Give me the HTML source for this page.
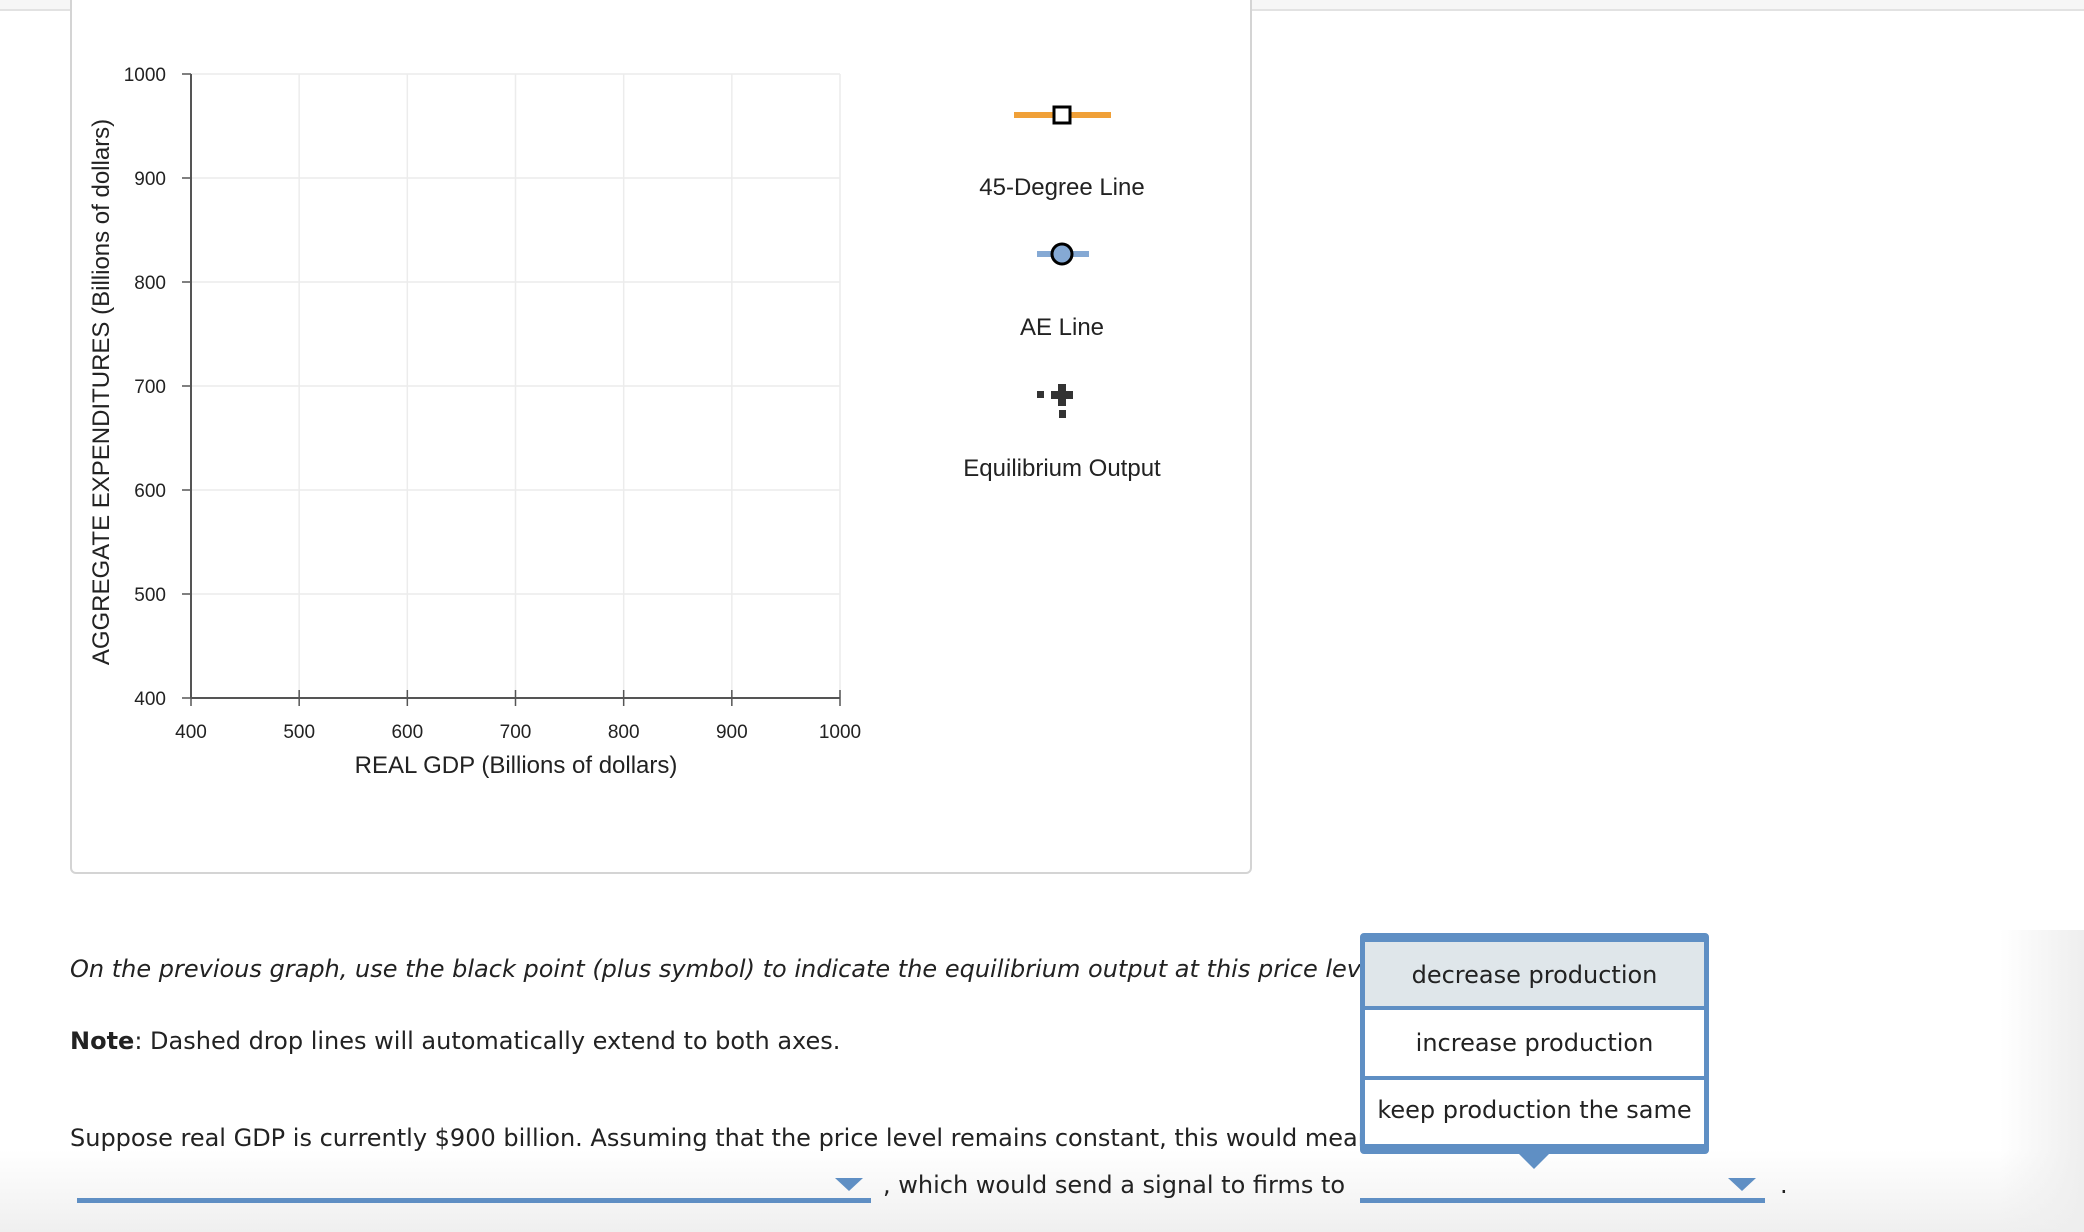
<!DOCTYPE html>
<html><head><meta charset="utf-8">
<style>
html,body{margin:0;padding:0;background:#fff;}
body{width:2084px;height:1232px;overflow:hidden;position:relative;font-family:"DejaVu Sans","Liberation Sans",sans-serif;}
.t{position:absolute;font-size:24px;color:#222;white-space:nowrap;}
</style></head>
<body>
<div style="position:absolute;left:0;top:1150px;width:2084px;height:82px;background:linear-gradient(#fff,#efefef);"></div>
<div style="position:absolute;left:2000px;top:930px;width:84px;height:302px;background:linear-gradient(90deg,rgba(255,255,255,0),#eeeeee);"></div>
<div style="position:absolute;left:0;top:0;width:2084px;height:9px;background:#f6f6f6;border-bottom:2px solid #e2e2e2;"></div>
<div style="position:absolute;left:70px;top:-10px;width:1178px;height:880px;border:2px solid #d4d4d4;border-radius:6px;background:#fff;"></div>

<svg id="chart" width="2084" height="1232" style="position:absolute;left:0;top:0;" xmlns="http://www.w3.org/2000/svg" font-family="Liberation Sans, sans-serif">
  <g id="grid"></g>
  <g id="axes"></g>
  <text x="516" y="773" font-size="24" text-anchor="middle" fill="#222">REAL GDP (Billions of dollars)</text>
  <text transform="translate(109,392) rotate(-90)" font-size="24" text-anchor="middle" fill="#222">AGGREGATE EXPENDITURES (Billions of dollars)</text>
  <g>
    <g>
      <line x1="1014" y1="115" x2="1111" y2="115" stroke="#f0a038" stroke-width="6"/>
      <rect x="1054" y="107" width="16" height="16" fill="#fff" stroke="#000" stroke-width="3"/>
      <text x="1062" y="195" font-size="24" text-anchor="middle" fill="#222">45-Degree Line</text>
    </g>
    <g>
      <line x1="1037" y1="254" x2="1089" y2="254" stroke="#85a9d4" stroke-width="6"/>
      <circle cx="1062" cy="254" r="10" fill="#85a9d4" stroke="#000" stroke-width="3"/>
      <text x="1062" y="335" font-size="24" text-anchor="middle" fill="#222">AE Line</text>
    </g>
    <g>
      <rect x="1037" y="391" width="7" height="7" fill="#333"/>
      <rect x="1058" y="384" width="8" height="22" fill="#333"/>
      <rect x="1051" y="391" width="22" height="8" fill="#333"/>
      <rect x="1059" y="410" width="7" height="8" fill="#333"/>
      <text x="1062" y="476" font-size="24" text-anchor="middle" fill="#222">Equilibrium Output</text>
    </g>
  </g>
</svg>

<div class="t" style="left:70px;top:955px;font-style:italic;width:1290px;overflow:hidden;">On the previous graph, use the black point (plus symbol) to indicate the equilibrium output at this price level.</div>
<div class="t" style="left:70px;top:1027px;"><b>Note</b>: Dashed drop lines will automatically extend to both axes.</div>
<div class="t" style="left:70px;top:1124px;width:1290px;overflow:hidden;">Suppose real GDP is currently $900 billion. Assuming that the price level remains constant, this would mean</div>

<div style="position:absolute;left:77px;top:1168px;width:794px;height:30px;border-bottom:5px solid #5f8fc4;"></div>
<div style="position:absolute;left:835px;top:1178px;width:0;height:0;border-left:14px solid transparent;border-right:14px solid transparent;border-top:13px solid #5f8fc4;"></div>
<div class="t" style="left:883px;top:1171px;">, which would send a signal to firms to</div>
<div style="position:absolute;left:1360px;top:1168px;width:405px;height:30px;border-bottom:5px solid #5f8fc4;"></div>
<div style="position:absolute;left:1728px;top:1178px;width:0;height:0;border-left:14px solid transparent;border-right:14px solid transparent;border-top:13px solid #5f8fc4;"></div>
<div class="t" style="left:1780px;top:1171px;">.</div>

<div style="position:absolute;left:1360px;top:933px;width:339px;height:211px;border:5px solid #5f8fc4;border-radius:4px;background:#5f8fc4;">
  <div style="position:absolute;left:0;top:4px;width:339px;height:64px;background:#dfe6ea;text-align:center;line-height:66px;font-size:24px;color:#222;">decrease production</div>
  <div style="position:absolute;left:0;top:72px;width:339px;height:66px;background:#fff;text-align:center;line-height:66px;font-size:24px;color:#222;">increase production</div>
  <div style="position:absolute;left:0;top:142px;width:339px;height:64px;background:#fff;text-align:center;line-height:60px;font-size:24px;color:#222;">keep production the same</div>
</div>
<div style="position:absolute;left:1518px;top:1153px;width:0;height:0;border-left:16px solid transparent;border-right:16px solid transparent;border-top:16px solid #5f8fc4;"></div>

<script>
const xTicks = [400, 500, 600, 700, 800, 900, 1000];
const yTicks = [400, 500, 600, 700, 800, 900, 1000];
const xDomain = [400, 1000];
const yDomain = [400, 1000];

const NS = 'http://www.w3.org/2000/svg';
const PL = 191, PR = 840, PT = 74, PB = 698;
function sx(v){ return PL + (v - xDomain[0]) / (xDomain[1] - xDomain[0]) * (PR - PL); }
function sy(v){ return PB - (v - yDomain[0]) / (yDomain[1] - yDomain[0]) * (PB - PT); }
function mk(tag, attrs){ const e = document.createElementNS(NS, tag); for (const k in attrs) e.setAttribute(k, attrs[k]); return e; }
const grid = document.getElementById('grid');
const axes = document.getElementById('axes');

xTicks.forEach(v => {
  const x = sx(v);
  if (v !== xDomain[0]) {
    const g = mk('line', {x1:x, y1:PT, x2:x, y2:PB, stroke:'#ececec', 'stroke-width':1.5});
    
    
    grid.appendChild(g);
  }
  const t = mk('line', {x1:x, y1:PB-8, x2:x, y2:PB+8, stroke:'#555', 'stroke-width':1.5});
  
  
  axes.appendChild(t);
  const l = mk('text', {x:x, y:738, 'font-size':19, 'text-anchor':'middle', fill:'#222'});
  l.textContent = v;
  
  
  axes.appendChild(l);
});
yTicks.forEach(v => {
  const y = sy(v);
  if (v !== yDomain[0]) {
    const g = mk('line', {x1:PL, y1:y, x2:PR, y2:y, stroke:'#ececec', 'stroke-width':1.5});
    
    
    grid.appendChild(g);
  }
  const t = mk('line', {x1:PL-9, y1:y, x2:PL, y2:y, stroke:'#555', 'stroke-width':1.5});
  
  
  axes.appendChild(t);
  const l = mk('text', {x:166, y:y+7, 'font-size':19, 'text-anchor':'end', fill:'#222'});
  l.textContent = v;
  
  
  axes.appendChild(l);
});
const xa = mk('line', {x1:PL, y1:PB, x2:PR, y2:PB, stroke:'#555', 'stroke-width':2});


axes.appendChild(xa);
const ya = mk('line', {x1:PL, y1:PT, x2:PL, y2:PB, stroke:'#555', 'stroke-width':2});


axes.appendChild(ya);
</script>
</body></html>
